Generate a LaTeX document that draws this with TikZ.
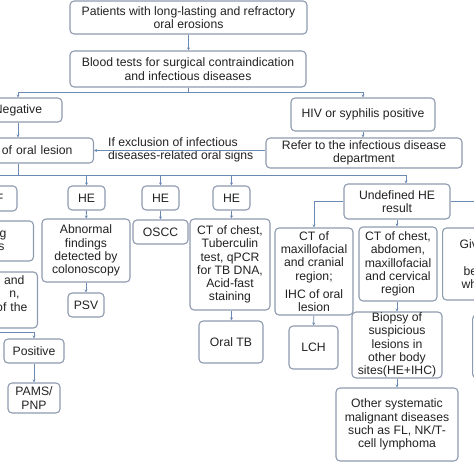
\documentclass[tikz,border=0pt]{standalone}
\usepackage{fontspec}
\setmainfont{Liberation Sans}
\usepackage{xcolor}
\definecolor{boxbd}{HTML}{8E9BAE}
\definecolor{linkbd}{HTML}{6A8AB3}
\definecolor{txt}{HTML}{222222}
\usetikzlibrary{arrows.meta}

\begin{document}
\begin{tikzpicture}[
  x=1pt, y=-1pt,
  box/.style={draw=boxbd, line width=1.1pt, rounded corners=4pt, fill=white, text=txt,
              align=center, inner xsep=2pt, inner ysep=0.5pt,
              font=\fontsize{12.2}{13.3}\selectfont},
  note/.style={text=txt, align=left, inner sep=2pt, font=\fontsize{12.2}{13.3}\selectfont},
  arrow/.style={-{Stealth[length=3pt,width=3pt]}, draw=linkbd, line width=0.8pt},
  link/.style={draw=linkbd, line width=0.8pt},
]
\useasboundingbox (0,0) rectangle (474,474);
\clip (0,0) rectangle (474,474);

% --- Screening ---
\node[box, minimum width=237pt, minimum height=33pt] (pat) at (188.5,17.5) {Patients with long-lasting and refractory\\oral erosions};
\node[box, minimum width=236pt, minimum height=36pt] (blood) at (188,69) {Blood tests for surgical contraindication\\and infectious diseases};
\node[box, minimum width=88pt, minimum height=24pt] (neg) at (18,110) {Negative};
\node[box, minimum width=144pt, minimum height=33pt] (hiv) at (363,114.5) {HIV or syphilis positive};
\node[box, minimum width=196pt, minimum height=30pt] (refer) at (364,153) {Refer to the infectious disease\\department};
\node[box, anchor=east, text width=150pt, align=right, minimum height=25pt] (lesion) at (94,150.5) {of oral lesion\hspace*{19pt}\mbox{}};
\node[note, anchor=west] (excl) at (106,150) {If exclusion of infectious\\diseases-related oral signs};

% --- HE branches ---
\node[box, anchor=east, text width=40pt, align=right, minimum height=25pt] (fbox) at (17.5,198.5) {F\hspace*{11.5pt}\mbox{}};
\node[box, minimum width=37pt, minimum height=24pt] (he1) at (86.5,198) {HE};
\node[box, minimum width=37pt, minimum height=24pt] (he2) at (160.5,198) {HE};
\node[box, minimum width=37pt, minimum height=24pt] (he3) at (231.5,198) {HE};
\node[box, minimum width=106pt, minimum height=35pt] (undef) at (397,201.5) {Undefined HE\\result};

% --- left column ---
\node[box, anchor=east, text width=60pt, align=right, minimum height=40pt] (gbox) at (34,241) {g\hspace*{25pt}\mbox{}\\s\hspace*{27pt}\mbox{}};
\node[box, anchor=east, text width=96pt, align=right, minimum height=56pt] (andbox) at (38,300) {, and\hspace*{11pt}\mbox{}\\n,\hspace*{16pt}\mbox{}\\of the\hspace*{8pt}\mbox{}\\\mbox{}};
\node[box, minimum width=60pt, minimum height=24pt] (pos) at (34,351) {Positive};
\node[box, minimum width=52pt, minimum height=30pt] (pams) at (34,398) {PAMS/\\PNP};

% --- middle columns ---
\node[box, minimum width=88pt, minimum height=63pt] (abn) at (86,250.5) {Abnormal\\findings\\detected by\\colonoscopy};
\node[box, minimum width=36pt, minimum height=24pt] (psv) at (86,305) {PSV};
\node[box, minimum width=55pt, minimum height=24pt] (oscc) at (160.5,232) {OSCC};
\node[box, minimum width=80pt, minimum height=91pt] (ctchest) at (230,264.5) {CT of chest,\\Tuberculin\\test, qPCR\\for TB DNA,\\Acid-fast\\staining};
\node[box, minimum width=64pt, minimum height=42pt] (oraltb) at (231,342) {Oral TB};

% --- undefined HE result ---
\node[box, minimum width=78pt, minimum height=87pt] (ctmax) at (314,271.5) {CT of\\maxillofacial\\and cranial\\region;\\[5pt]IHC of oral\\lesion};
\node[box, minimum width=49pt, minimum height=43pt] (lch) at (313.5,347.5) {LCH};
\node[box, minimum width=78pt, minimum height=74pt] (ctabd) at (398,264) {CT of chest,\\abdomen,\\maxillofacial\\and cervical\\region};
\node[box, minimum width=90pt, minimum height=66pt] (biopsy) at (397,345) {Biopsy of\\suspicious\\lesions in\\other body\\sites(HE+IHC)};
\node[box, minimum width=122pt, minimum height=73pt] (other) at (397,424.5) {Other systematic\\malignant diseases\\such as FL, NK/T-\\cell lymphoma};
\node[box, anchor=west, text width=96pt, align=left, minimum height=72pt] (give) at (442,264) {\hspace*{15pt}Giv\\\mbox{}\\\hspace*{19pt}be\\\hspace*{17pt}wh};
\node[box, anchor=west, minimum width=60pt, minimum height=63pt] (farbox) at (472,346.5) {};

% Arrows
\draw[arrow] (pat.south) -- (pat.south |- blood.north);
\draw[arrow] (blood.south) -- ++(0,5) -| (neg);
\draw[arrow] (blood.south) -- ++(0,5) -| (hiv);
\draw[arrow] (hiv.south) -- (hiv.south |- refer.north);
\draw[arrow] (neg.south) -- (neg.south |- lesion.north);
\draw[arrow] (refer.west |- lesion.east) -- (lesion.east);

\draw[link] (neg.south |- lesion.south) -- ++(0,12) coordinate (hsplit);
\draw[arrow] (hsplit) -| (fbox);
\draw[arrow] (hsplit) -| (he1);
\draw[arrow] (hsplit) -| (he2);
\draw[arrow] (hsplit) -| (he3);
\draw[arrow] (hsplit) -| ([xshift=9pt]undef.north);

\draw[arrow] (fbox) -- (gbox);
\draw[arrow] (gbox) -- (andbox);
\draw[arrow] (andbox.south) -- ++(0,4) -| (pos);
\draw[arrow] (pos) -- (pams);

\draw[arrow] (he1) -- (abn);
\draw[arrow] (abn) -- (psv);
\draw[arrow] (he2) -- (oscc);
\draw[arrow] (he3.south) -- (he3.south |- ctchest.north);
\draw[arrow] (he3.south |- ctchest.south) -- (he3.south |- oraltb.north);

\draw[arrow] (undef.west) -| (ctmax);
\draw[arrow] (ctmax) -- (lch);
\draw[arrow] (undef.south) -- (undef.south |- ctabd.north);
\draw[arrow] (ctabd.south -| biopsy) -- (biopsy);
\draw[arrow] (biopsy) -- (other);
\draw[arrow] (undef.east) -| (give);
\end{tikzpicture}
\end{document}
